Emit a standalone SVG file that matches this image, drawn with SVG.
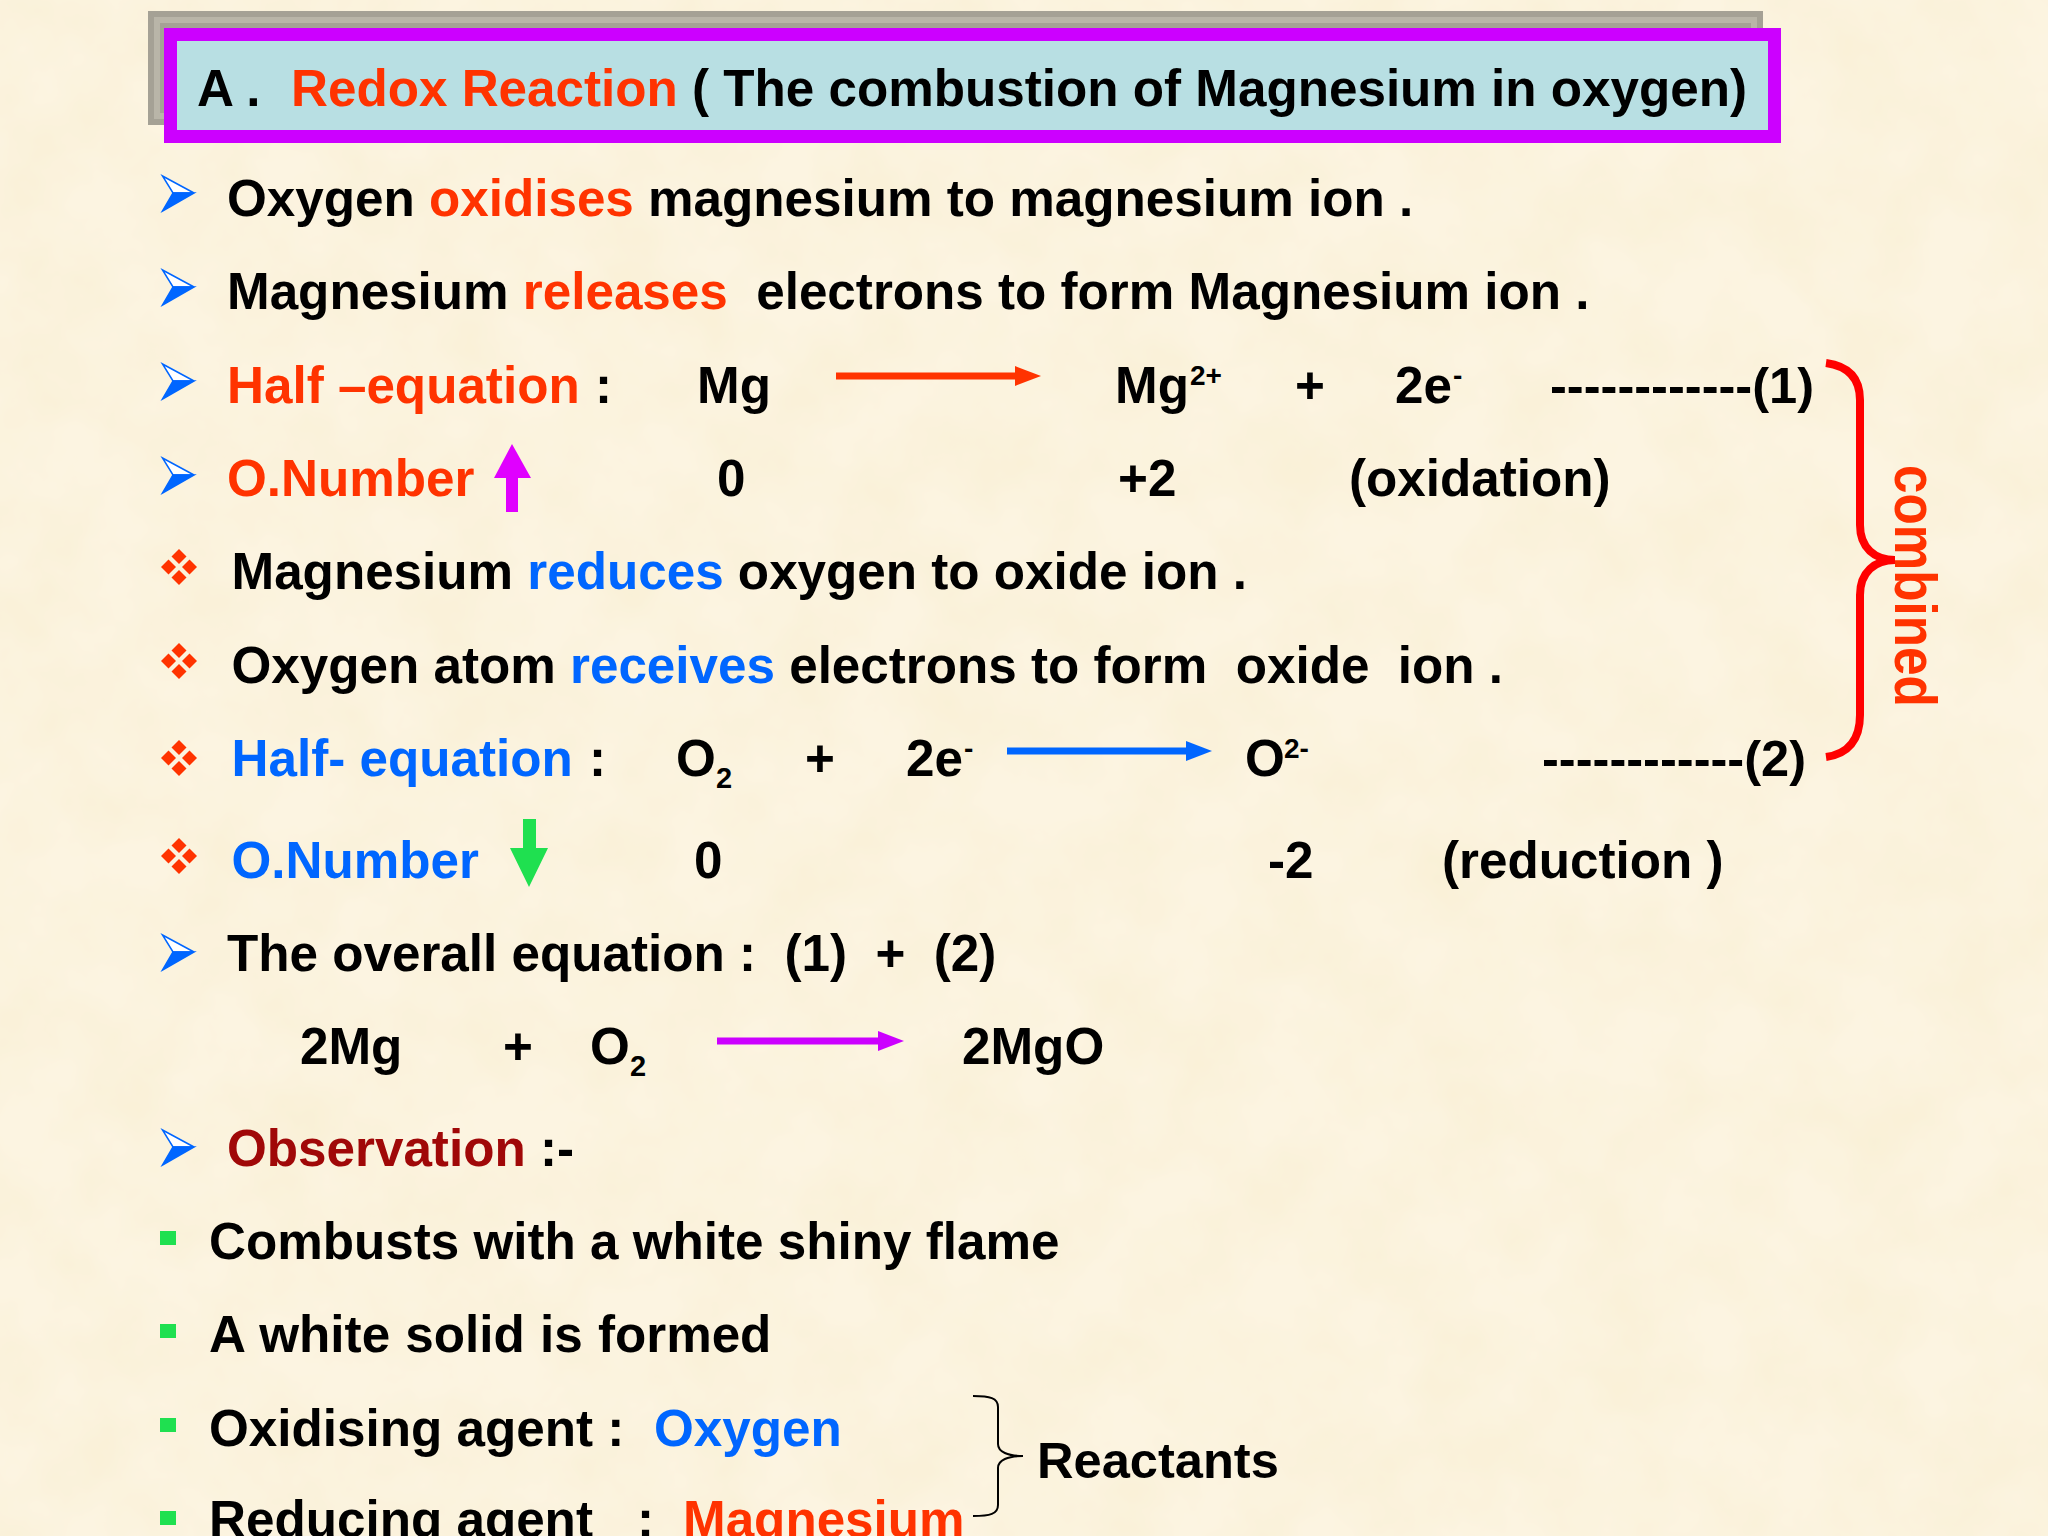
<svg xmlns="http://www.w3.org/2000/svg" width="2048" height="1536" viewBox="0 0 2048 1536">
<style>
text{font-family:"Liberation Sans",Arial,sans-serif;font-weight:700;font-size:51.2px;fill:#000;white-space:pre}
.r{fill:#FF3300}.b{fill:#0066FF}.d{fill:#A00808}
.s{font-size:28px}
.sm{font-size:29px}
.c{fill:none;stroke-linecap:butt}
</style>
<defs>
<filter id="paper" x="0" y="0" width="100%" height="100%"><feTurbulence type="fractalNoise" baseFrequency="0.012" numOctaves="4" seed="7"/><feColorMatrix values="0 0 0 0 0.93  0 0 0 0 0.85  0 0 0 0 0.62  0.9 0 0 0 -0.26"/></filter>
<g id="ab"><path d="M-31.500-17L0 0L-21 0Z" fill="#fff" stroke="#0066FF" stroke-width="1.500"/><path d="M-31.500 18L0 0L-21 0Z" fill="#0066FF" stroke="#0066FF" stroke-width="1.500"/></g>
<g id="db" fill="#FF3300"><path d="M0-18L7.500-10.500L0-3L-7.500-10.500Z"/><path d="M0 18L7.500 10.500L0 3L-7.500 10.500Z"/><path d="M-18 0L-10.500-7.500L-3 0L-10.500 7.500Z"/><path d="M18 0L10.500-7.500L3 0L10.500 7.500Z"/></g>
<rect id="sb" x="-8" y="-7" width="16" height="14" fill="#1FE050"/>
<marker id="hr" markerUnits="userSpaceOnUse" markerWidth="26" markerHeight="22" refX="4" refY="11" orient="auto"><path d="M0 1L26 11L0 21Z" fill="#FF3300"/></marker>
<marker id="hb" markerUnits="userSpaceOnUse" markerWidth="26" markerHeight="22" refX="4" refY="11" orient="auto"><path d="M0 1L26 11L0 21Z" fill="#0066FF"/></marker>
<marker id="hp" markerUnits="userSpaceOnUse" markerWidth="26" markerHeight="22" refX="4" refY="11" orient="auto"><path d="M0 1L26 11L0 21Z" fill="#CC00FF"/></marker>
</defs>
<g id="background"><rect width="2048" height="1536" fill="#FCF4E1"/><rect width="2048" height="1536" filter="url(#paper)"/></g>
<g id="title">
<rect x="148" y="11" width="1615" height="114" fill="#A5A195"/>
<rect x="157" y="20" width="1597" height="96" fill="none" stroke="#B9B5A8" stroke-width="6"/>
<rect x="170.500" y="34.500" width="1604" height="102" fill="#B8DFE3" stroke="#CC00FF" stroke-width="13"/>
<text y="106"><tspan x="197">A .</tspan><tspan x="291" class="r">Redox Reaction</tspan><tspan x="692">( The combustion of Magnesium in oxygen)</tspan></text>
</g>
<g id="bullets">
<use href="#ab" x="194" y="193"/><use href="#ab" x="194" y="287"/><use href="#ab" x="194" y="381"/><use href="#ab" x="194" y="475"/>
<use href="#db" x="179" y="567"/><use href="#db" x="179" y="661"/><use href="#db" x="179" y="758"/><use href="#db" x="179" y="856"/>
<use href="#ab" x="194" y="952"/><use href="#ab" x="194" y="1147"/>
<use href="#sb" x="168" y="1238"/><use href="#sb" x="168" y="1331"/><use href="#sb" x="168" y="1425"/><use href="#sb" x="168" y="1518"/>
</g>
<g id="lines">
<text y="215.500" x="227">Oxygen <tspan class="r">oxidises</tspan> magnesium to magnesium ion .</text>
<text y="308.500" x="227">Magnesium <tspan class="r">releases</tspan>  electrons to form Magnesium ion .</text>
<text y="402.500"><tspan x="227" class="r">Half –equation</tspan><tspan x="595">:</tspan><tspan x="697">Mg</tspan><tspan x="1115">Mg</tspan><tspan x="1295">+</tspan><tspan x="1395">2e</tspan><tspan x="1550" style="font-size:50.600px">------------(1)</tspan></text>
<text class="s" x="1190" y="385">2+</text><text class="s" x="1453" y="385">-</text>
<text y="495.500"><tspan x="227" class="r">O.Number</tspan><tspan x="717">0</tspan><tspan x="1118">+2</tspan><tspan x="1349">(oxidation)</tspan></text>
<text y="588.500" x="231.500">Magnesium <tspan class="b">reduces</tspan> oxygen to oxide ion .</text>
<text y="682.500" x="231.500">Oxygen atom <tspan class="b">receives</tspan> electrons to form  oxide  ion .</text>
<text y="775.500"><tspan x="231.500" class="b">Half- equation</tspan><tspan x="589">:</tspan><tspan x="676">O</tspan><tspan x="805">+</tspan><tspan x="906">2e</tspan><tspan x="1245">O</tspan><tspan x="1542" style="font-size:50.600px">------------(2)</tspan></text>
<text class="sm" x="716" y="788">2</text><text class="s" x="964" y="758">-</text><text class="s" x="1284" y="758">2-</text>
<text y="877.500"><tspan x="231.500" class="b">O.Number</tspan><tspan x="694">0</tspan><tspan x="1268">-2</tspan><tspan x="1442">(reduction )</tspan></text>
<text y="970.500" x="227">The overall equation :  (1)  +  (2)</text>
<text y="1063.500"><tspan x="300">2Mg</tspan><tspan x="503">+</tspan><tspan x="590">O</tspan><tspan x="962">2MgO</tspan></text>
<text class="sm" x="630" y="1076">2</text>
<text y="1165.500" x="227"><tspan class="d">Observation</tspan> :-</text>
<text y="1259" x="209">Combusts with a white shiny flame</text>
<text y="1352" x="209" style="word-spacing:1px">A white solid is formed</text>
<text y="1446"><tspan x="209">Oxidising agent :</tspan><tspan x="654" class="b">Oxygen</tspan></text>
<text y="1537"><tspan x="209">Reducing agent</tspan><tspan x="637">:</tspan><tspan x="683" class="r">Magnesium</tspan></text>
<text y="1477.500" x="1037" style="font-size:50.600px">Reactants</text>
<text class="r" transform="translate(1895 465) rotate(90) scale(1 1.17)">combined</text>
</g>
<g id="connectors">
<path class="c" d="M836 376H1019" stroke="#FF3300" stroke-width="7" marker-end="url(#hr)"/>
<path class="c" d="M1007 751H1190" stroke="#0066FF" stroke-width="7" marker-end="url(#hb)"/>
<path class="c" d="M717 1041H882" stroke="#CC00FF" stroke-width="7" marker-end="url(#hp)"/>
<path d="M506 512V478H494L512 444L531 478H518V512Z" fill="#E000FF"/>
<path d="M523 819H536V848H548L529 887L510 848H523Z" fill="#1FE050"/>
<path class="c" d="M1826 363C1848 366 1860 378 1860 400V525C1860 548 1875 560 1895 560C1875 560 1860 572 1860 595V715C1860 740 1848 754 1826 757" stroke="#FF0000" stroke-width="8"/>
<path class="c" d="M973 1396C990 1396 998 1398 998 1407V1444C998 1452 1008 1456 1023 1456C1008 1456 998 1460 998 1468V1505C998 1514 990 1516 973 1516" stroke="#000" stroke-width="2"/>
</g>
</svg>
